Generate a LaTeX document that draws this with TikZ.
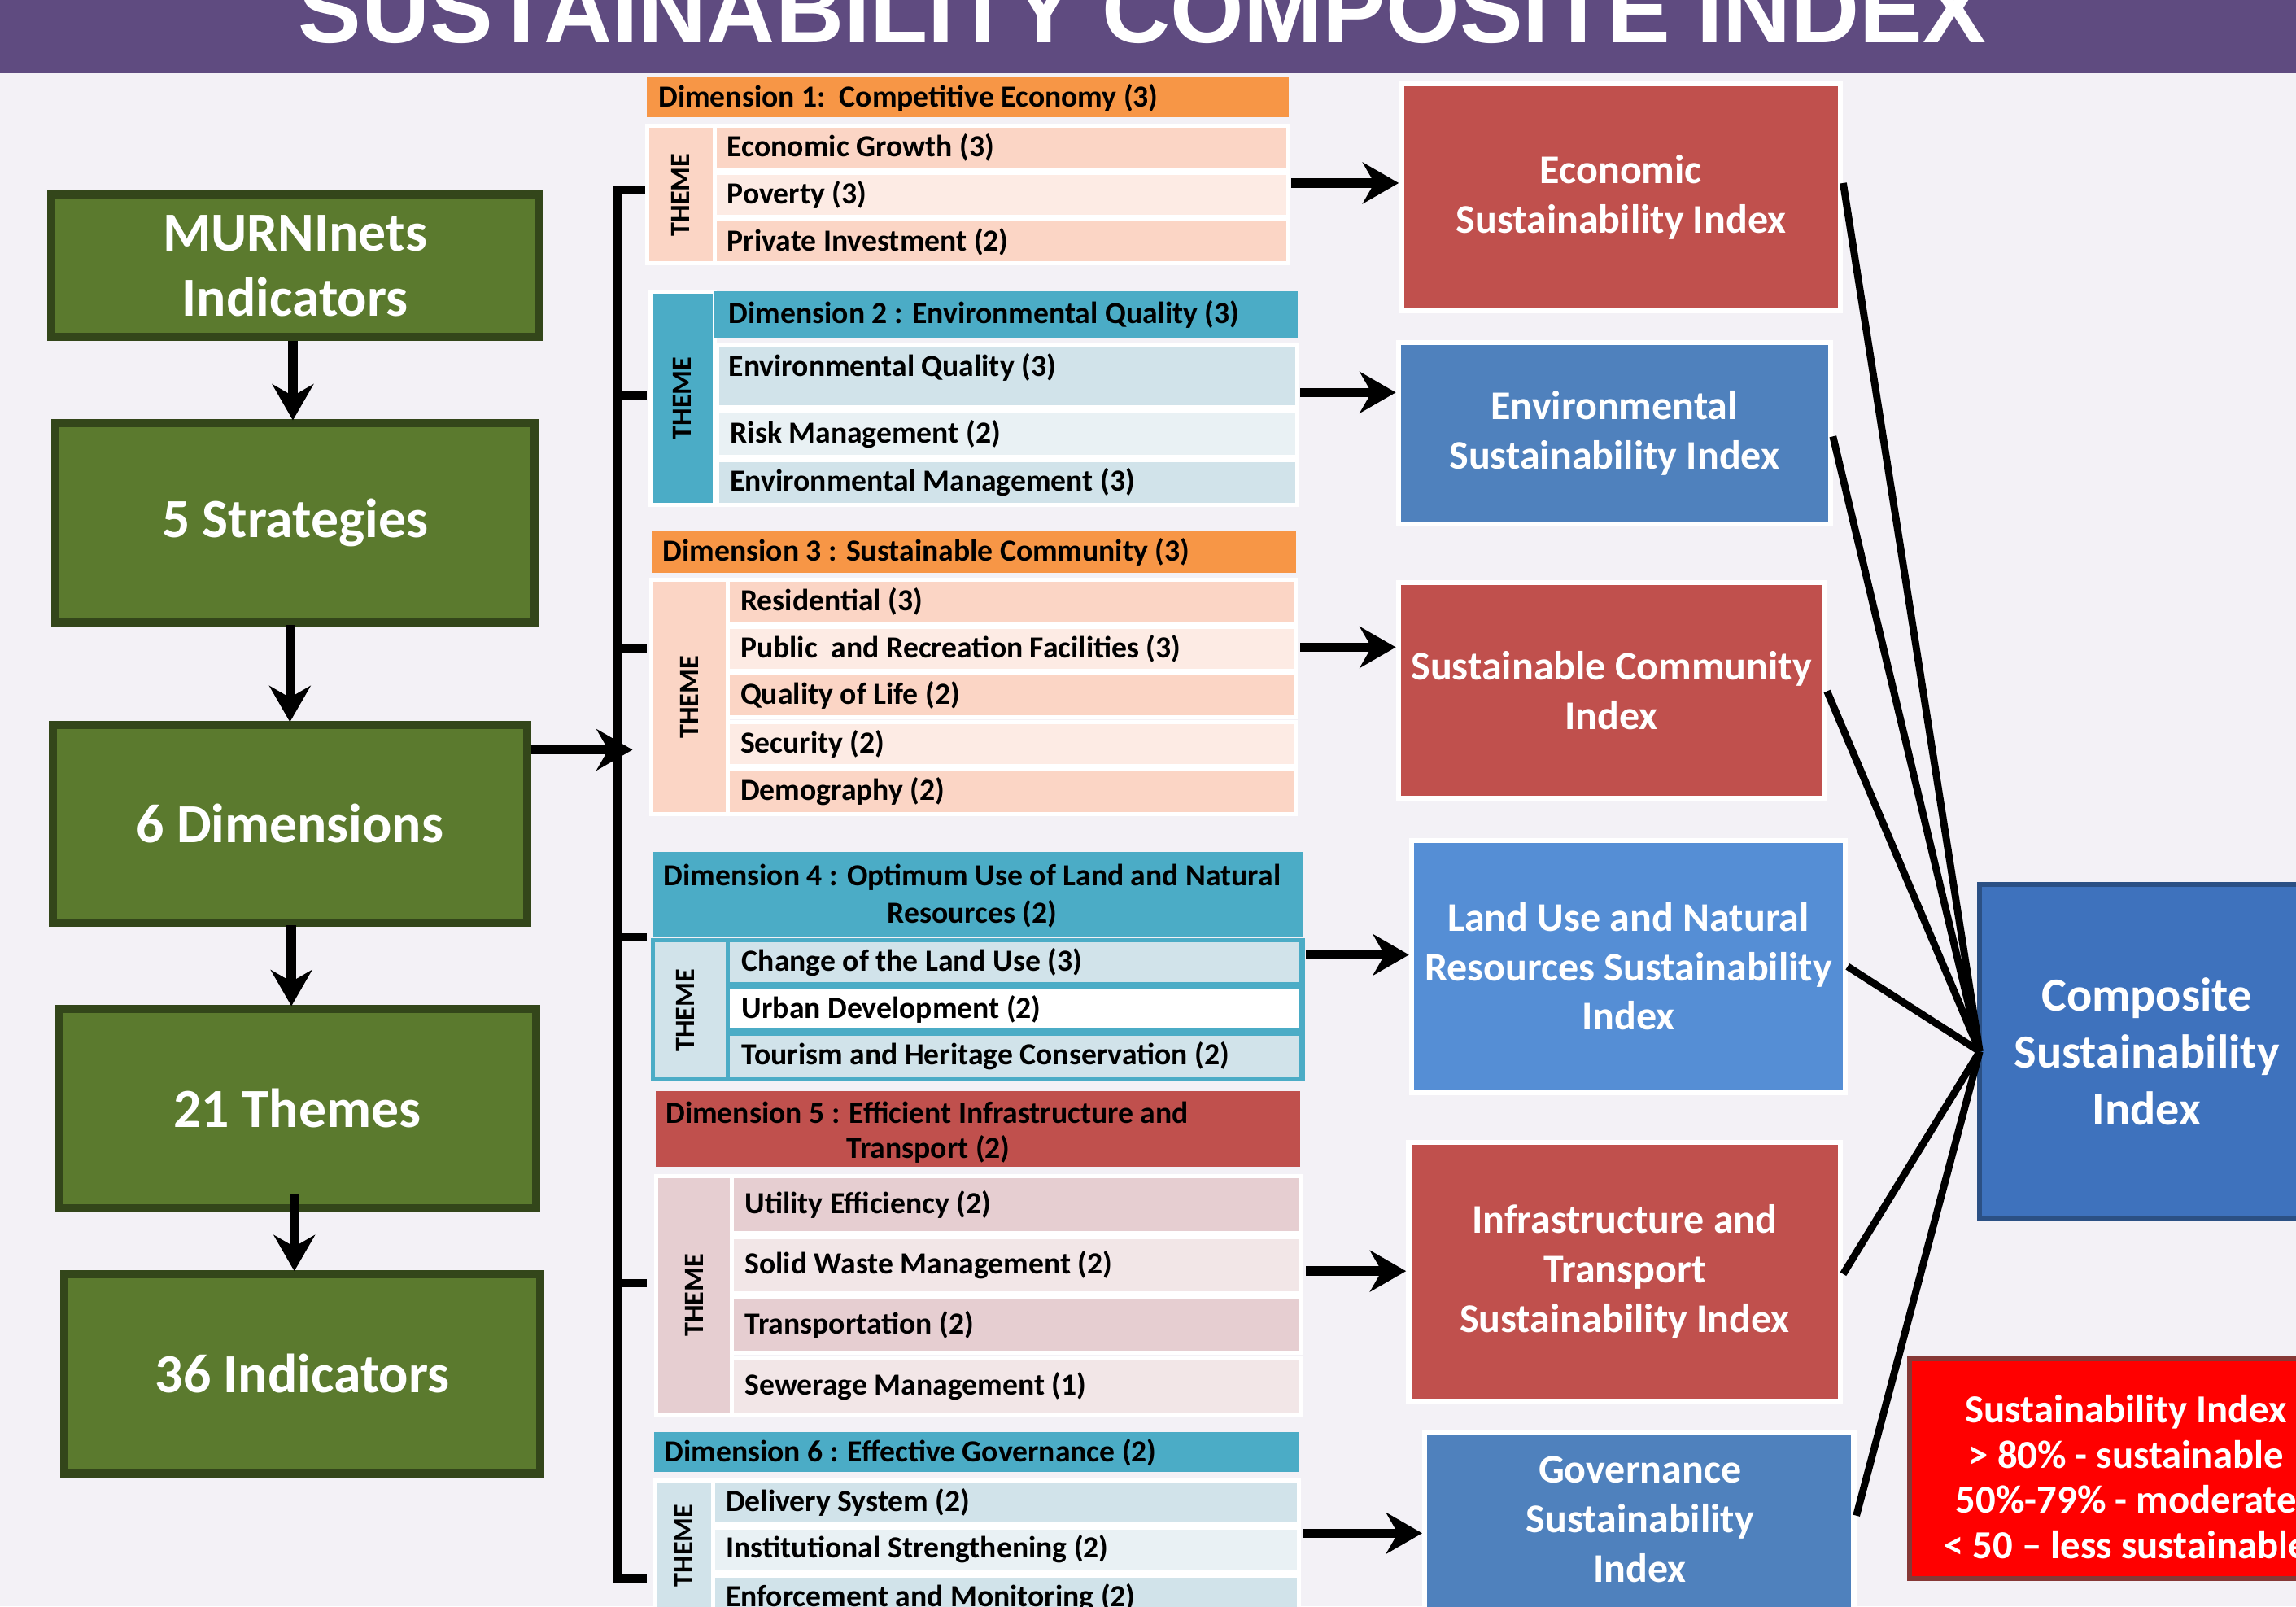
\documentclass[tikz,border=0pt]{standalone}
\usepackage{fontspec}
\setmainfont{Carlito}
\newfontfamily\titlefont{Liberation Sans}
\usetikzlibrary{fit,arrows.meta}
\definecolor{bg}{HTML}{F3F1F6}
\definecolor{purp}{HTML}{5F4B80}
\definecolor{grn}{HTML}{5B7A2E}
\definecolor{grnd}{HTML}{33461A}
\definecolor{org}{HTML}{F79646}
\definecolor{pchA}{HTML}{FBD5C5}
\definecolor{pchB}{HTML}{FDEBE4}
\definecolor{tl}{HTML}{4BACC6}
\definecolor{blA}{HTML}{D1E3EA}
\definecolor{blB}{HTML}{E9F1F4}
\definecolor{rd}{HTML}{C0504D}
\definecolor{pkA}{HTML}{E6CED1}
\definecolor{pkB}{HTML}{F2E6E7}
\definecolor{bx}{HTML}{4F81BD}
\definecolor{bx2}{HTML}{558ED5}
\definecolor{bx3}{HTML}{3E72BD}
\tikzset{
 rowtext/.style={font=\bfseries\fontsize{5.95}{6.8}\selectfont,text=black,inner sep=0},
 gbox/.style={fill=grn,draw=grnd,line width=1.6pt,inner sep=0},
 gtext/.style={font=\bfseries\fontsize{10.7}{12.6}\selectfont,text=white,align=center},
 ibox/.style={inner sep=0,draw=white,line width=1pt},
 itext/.style={font=\bfseries\fontsize{7.9}{9.6}\selectfont,text=white,align=center},
 arr/.style={-{Stealth[length=7pt,width=8pt]},line width=1.8pt},
 conn/.style={line width=1.4pt},
 cell/.style={draw=white,line width=0.8pt},
}
\newcommand\rowc[6]{\path[cell,fill=#5] (#1,#2) rectangle (#3,#4); \node[rowtext,anchor=west] at ({#1+8},{(#2+#4)/2}) {#6};}
\newcommand\themecol[5]{\path[cell,fill=#5] (#1,#2) rectangle (#3,#4); \node[rowtext,rotate=90,font=\bfseries\fontsize{5.4}{6}\selectfont] at ({(#1+#3)/2},{(#2+#4)/2}) {THEME};}
\begin{document}
\begin{tikzpicture}[x=0.01cm,y=-0.01cm]
\useasboundingbox (0,0) rectangle (1568,1097);
\clip (0,0) rectangle (1568,1097);
\fill[bg] (0,0) rectangle (1568,1097);
\fill[purp] (0,0) rectangle (1568,50);
\node[font=\titlefont\bfseries\fontsize{18.4}{20}\selectfont,text=white] (title) at (780,7) {SUSTAINABILITY COMPOSITE INDEX};
% green boxes
\node[gbox,fit={(35,133)(368,230)}] (g1) {};
\node[gtext] at (g1.center) {MURNInets\\Indicators};
\node[gbox,fit={(38,289)(365,425)}] (g2) {};
\node[gtext] at (g2.center) {5 Strategies};
\node[gbox,fit={(36,495)(360,630)}] (g3) {};
\node[gtext] at (g3.center) {6 Dimensions};
\node[gbox,fit={(40,689)(366,825)}] (g4) {};
\node[gtext] at (g4.center) {21 Themes};
\node[gbox,fit={(44,870)(369,1006)}] (g5) {};
\node[gtext] at (g5.center) {36 Indicators};
\draw[arr] (200,233) -- (200,287);
\draw[arr] (198,427) -- (198,493);
\draw[arr] (199,632) -- (199,687);
\draw[arr] (201,815) -- (201,868);
% bracket
\coordinate (bk) at (432,512);
\draw[arr] (g3.east|-0,512) -- (bk);
\draw[line width=1.6pt] (442,130) -- (422,130) -- (422,1078) -- (442,1078);
\foreach \yy in {270,443,640,876} \draw[line width=1.6pt] (422,\yy) -- (442,\yy);
% D1
\path[fill=org] (442,53) rectangle (880,80);
\node[rowtext,anchor=west] (d1) at (449,67) {Dimension 1:\ \ Competitive Economy (3)};
\themecol{442}{86}{488}{180}{pchA}
\rowc{488}{86}{880}{116}{pchA}{Economic Growth (3)}
\rowc{488}{118}{880}{148}{pchB}{Poverty (3)}
\rowc{488}{150}{880}{180}{pchA}{Private Investment (2)}
% D2
\themecol{444}{199}{488}{345}{tl}
\path[fill=tl] (488,199) rectangle (886,231);
\node[rowtext,anchor=west] at (497,215) {Dimension 2 : Environmental Quality (3)};
\path[cell,fill=blA] (490,236) rectangle (886,278); \node[rowtext,anchor=west] at (497,251) {Environmental Quality (3)};
\rowc{490}{281}{886}{312}{blB}{Risk Management (2)}
\rowc{490}{314}{886}{345}{blA}{Environmental Management (3)}
% D3
\path[fill=org] (445,362) rectangle (885,391);
\node[rowtext,anchor=west] at (452,377) {Dimension 3 : Sustainable Community (3)};
\themecol{445}{396}{497}{556}{pchA}
\rowc{497}{396}{885}{426}{pchA}{Residential (3)}
\rowc{497}{428}{885}{458}{pchB}{Public\ \ and Recreation Facilities (3)}
\rowc{497}{460}{885}{490}{pchA}{Quality of Life (2)}
\rowc{497}{493}{885}{523}{pchB}{Security (2)}
\rowc{497}{525}{885}{556}{pchA}{Demography (2)}
% D4
\path[fill=tl] (446,582) rectangle (890,640);
\node[rowtext] at (664,599) {Dimension 4 : Optimum Use of Land and Natural};
\node[rowtext] at (664,624) {Resources (2)};
\path[draw=tl,line width=0.8pt,fill=blA] (446,642) rectangle (890,737);
\node[rowtext,rotate=90,font=\bfseries\fontsize{5.4}{6}\selectfont] at (468,690) {THEME};
\path[draw=tl,line width=0.8pt,fill=blA] (497,642) rectangle (888,672); \node[rowtext,anchor=west] at (506,657) {Change of the Land Use (3)};
\path[draw=tl,line width=0.8pt,fill=white] (497,674) rectangle (888,704); \node[rowtext,anchor=west] at (506,689) {Urban Development (2)};
\path[draw=tl,line width=0.8pt,fill=blA] (497,706) rectangle (888,737); \node[rowtext,anchor=west] at (506,721) {Tourism and Heritage Conservation (2)};
% D5
\path[fill=rd] (448,745) rectangle (888,797);
\node[rowtext,anchor=west] at (454,760) {Dimension 5 : Efficient Infrastructure and};
\node[rowtext] at (634,785) {Transport (2)};
\themecol{448}{803}{500}{966}{pkA}
\rowc{500}{803}{888}{842}{pkA}{Utility Efficiency (2)}
\rowc{500}{845}{888}{883}{pkB}{Solid Waste Management (2)}
\rowc{500}{886}{888}{924}{pkA}{Transportation (2)}
\rowc{500}{927}{888}{966}{pkB}{Sewerage Management (1)}
% D6
\path[fill=tl] (447,978) rectangle (887,1005);
\node[rowtext,anchor=west] at (453,992) {Dimension 6 : Effective Governance (2)};
\themecol{447}{1011}{487}{1100}{blA}
\rowc{487}{1011}{887}{1041}{blA}{Delivery System (2)}
\rowc{487}{1043}{887}{1073}{blB}{Institutional Strengthening (2)}
\rowc{487}{1076}{887}{1106}{blA}{Enforcement and Monitoring (2)}
% index boxes
\node[ibox,fill=rd,fit={(957,57)(1257,212)}] (i1) {};
\node[itext] at (i1.center) {Economic\\Sustainability Index};
\node[ibox,fill=bx,fit={(955,234)(1250,358)}] (i2) {};
\node[itext] at (i2.center) {Environmental\\Sustainability Index};
\node[ibox,fill=rd,fit={(955,398)(1246,545)}] (i3) {};
\node[itext] at (i3.center) {Sustainable Community\\Index};
\node[ibox,fill=bx2,fit={(964,574)(1260,746)}] (i4) {};
\node[itext] at (i4.center) {Land Use and Natural\\Resources Sustainability\\Index};
\node[ibox,fill=rd,fit={(962,780)(1257,957)}] (i5) {};
\node[itext] at (i5.center) {Infrastructure and\\Transport\\Sustainability Index};
\node[ibox,fill=bx,fit={(973,978)(1266,1100)}] (i6) {};
\node[itext,anchor=north] at (1120,982) {Governance\\Sustainability\\Index};
\draw[arr] (882,125) -- (i1.west|-0,125);
\draw[arr] (888,268) -- (i2.west|-0,268);
\draw[arr] (888,442) -- (i3.west|-0,442);
\draw[arr] (892,652) -- (i4.west|-0,652);
\draw[arr] (892,868) -- (i5.west|-0,868);
\draw[arr] (890,1047) -- (i6.west|-0,1047);
% composite
\node[inner sep=0,draw=bx3!70!black,line width=1pt,fill=bx3,fit={(1352,604)(1580,832)}] (cp) {};
\node[itext,font=\bfseries\fontsize{9.2}{11}\selectfont] at (1466,718) {Composite\\Sustainability\\Index};
\coordinate (cv) at (1352,718);
\foreach \p/\yy in {i1/125,i2/298,i3/472,i4/660,i5/870,i6/1035}
  \draw[conn] (\p.east|-0,\yy) -- (cv);
% legend
\node[inner sep=0,draw=rd!70!black,line width=1pt,fill=red,fit={(1304,928)(1580,1078)}] (lg) {};
\node[itext,font=\bfseries\fontsize{7.7}{8.8}\selectfont,anchor=north] at (1452,940) {Sustainability Index\\ > 80\% - sustainable\\50\%-79\% - moderate\\< 50 -- less sustainable};
\end{tikzpicture}
\end{document}
